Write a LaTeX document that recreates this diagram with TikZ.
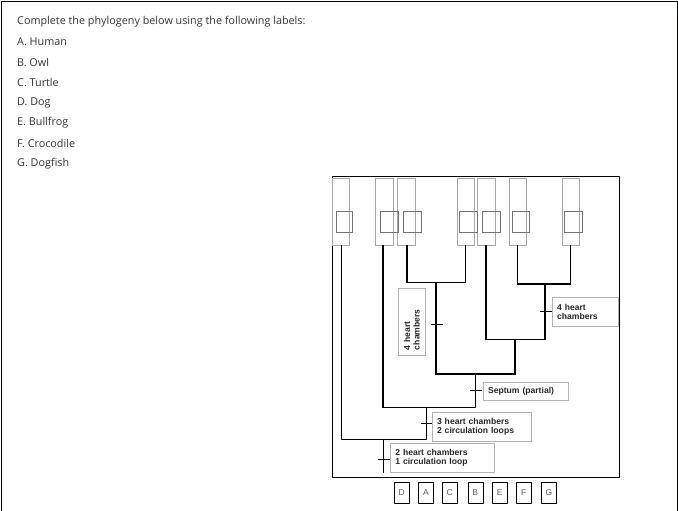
\documentclass[tikz,border=0pt]{standalone}
\usepackage{fontspec}
\setmainfont{Open Sans}
\newfontfamily\arial{Liberation Sans}
\begin{document}
\begin{tikzpicture}[x=1pt,y=-1pt,
 tall/.style={draw=gray!70,line width=0.8pt},
 sq/.style={draw=gray!90!black,line width=0.6pt},
 br/.style={line width=1.4pt,black},
 lab/.style={draw=gray!60,line width=0.8pt,font=\arial\bfseries\fontsize{8.6}{9.6}\selectfont,align=left,inner xsep=5pt,inner ysep=2pt,text=black!85},
 let/.style={draw=black,line width=0.6pt,font=\arial\fontsize{8.5}{9}\selectfont,text=gray!70!black,minimum width=15pt,minimum height=21pt,inner sep=0pt},
 qt/.style={anchor=west,font=\fontsize{10.8}{12}\selectfont,text=black!80,inner sep=0pt}]
\useasboundingbox (0,0) rectangle (678,511);
\draw[draw=black!80!blue,line width=1pt] (1,520) -- (1,2) -- (677,2) -- (677,520);
\node[qt] (q0) at (17,22) {Complete the phylogeny below using the following labels:};
\foreach \t [count=\i] in {A. Human,B. Owl,C. Turtle,D. Dog,E. Bullfrog,F. Crocodile,G. Dogfish}
  \node[qt] (q\i) at (17,22+20.2*\i) {\t};
\draw[line width=1pt] (332,176) rectangle (619,477);
% tall boxes
\foreach \a/\b/\n [count=\k] in {332/349/1,375/393/2,397/415/3,457/474/4,477/495/5,509/526/6,562/579/7}
  \draw[tall] (\a,178) rectangle (\b,245);
\foreach \a/\b [count=\k] in {336/352,380/398,403/421,459/477,482/500,512/529,564/582}
  \draw[sq] (\a,211) rectangle (\b,232);
% tree
\coordinate (n1) at (341.7,245); \coordinate (n2) at (383,245); \coordinate (n3) at (407,245);
\coordinate (n4) at (465.7,245); \coordinate (n5) at (486,245); \coordinate (n6) at (517.7,245);
\coordinate (n7) at (570.7,245);
\draw[br] (n3) |- (436,282.7) -| (n4);
\draw[br] (n6) |- (545,284) -| (n7);
\draw[br] (n5) |- (515,339.3) -| (545,284);
\draw[br] (436,282.7) |- (475.3,374) -| (515,339.3);
\draw[br] (n2) |- (426.7,407.7) -| (475.3,374);
\draw[br] (n1) |- (383.3,439.3) -| (426.7,407.7);
\draw[br] (383.3,439.3) -- (383.3,473.3);
% ticks
\draw[br] (430.5,324.7) -- (442.5,324.7);
\draw[br] (539.5,311.3) -- (551.5,311.3);
\draw[br] (469.5,390.7) -- (481.5,390.7);
\draw[br] (421,423.3) -- (433,423.3);
\draw[br] (377.5,459.3) -- (389.5,459.3);
% labels
\node[lab,rotate=90,text width=57pt,minimum height=27.7pt] (l1) at (411.8,321.5) {4 heart\\chambers};
\node[lab,anchor=north west,text width=56.6pt,minimum height=29pt] (l2) at (551.7,297) {4 heart\\chambers};
\node[lab,anchor=north west,text width=75pt,minimum height=18pt] (l3) at (482.7,382) {Septum (partial)};
\node[lab,anchor=north west,text width=89.3pt,minimum height=28.7pt] (l4) at (431.7,412) {3 heart chambers\\2 circulation loops};
\node[lab,anchor=north west,text width=94pt,minimum height=29pt] (l5) at (390,442.7) {2 heart chambers\\1 circulation loop};
% letters
\foreach \x/\t in {401.8/D,426/A,449.8/C,475.3/B,499.8/E,523.7/F,549/G}
  \node[let] (b\t) at (\x,492.5) {\t};
\end{tikzpicture}
\end{document}
